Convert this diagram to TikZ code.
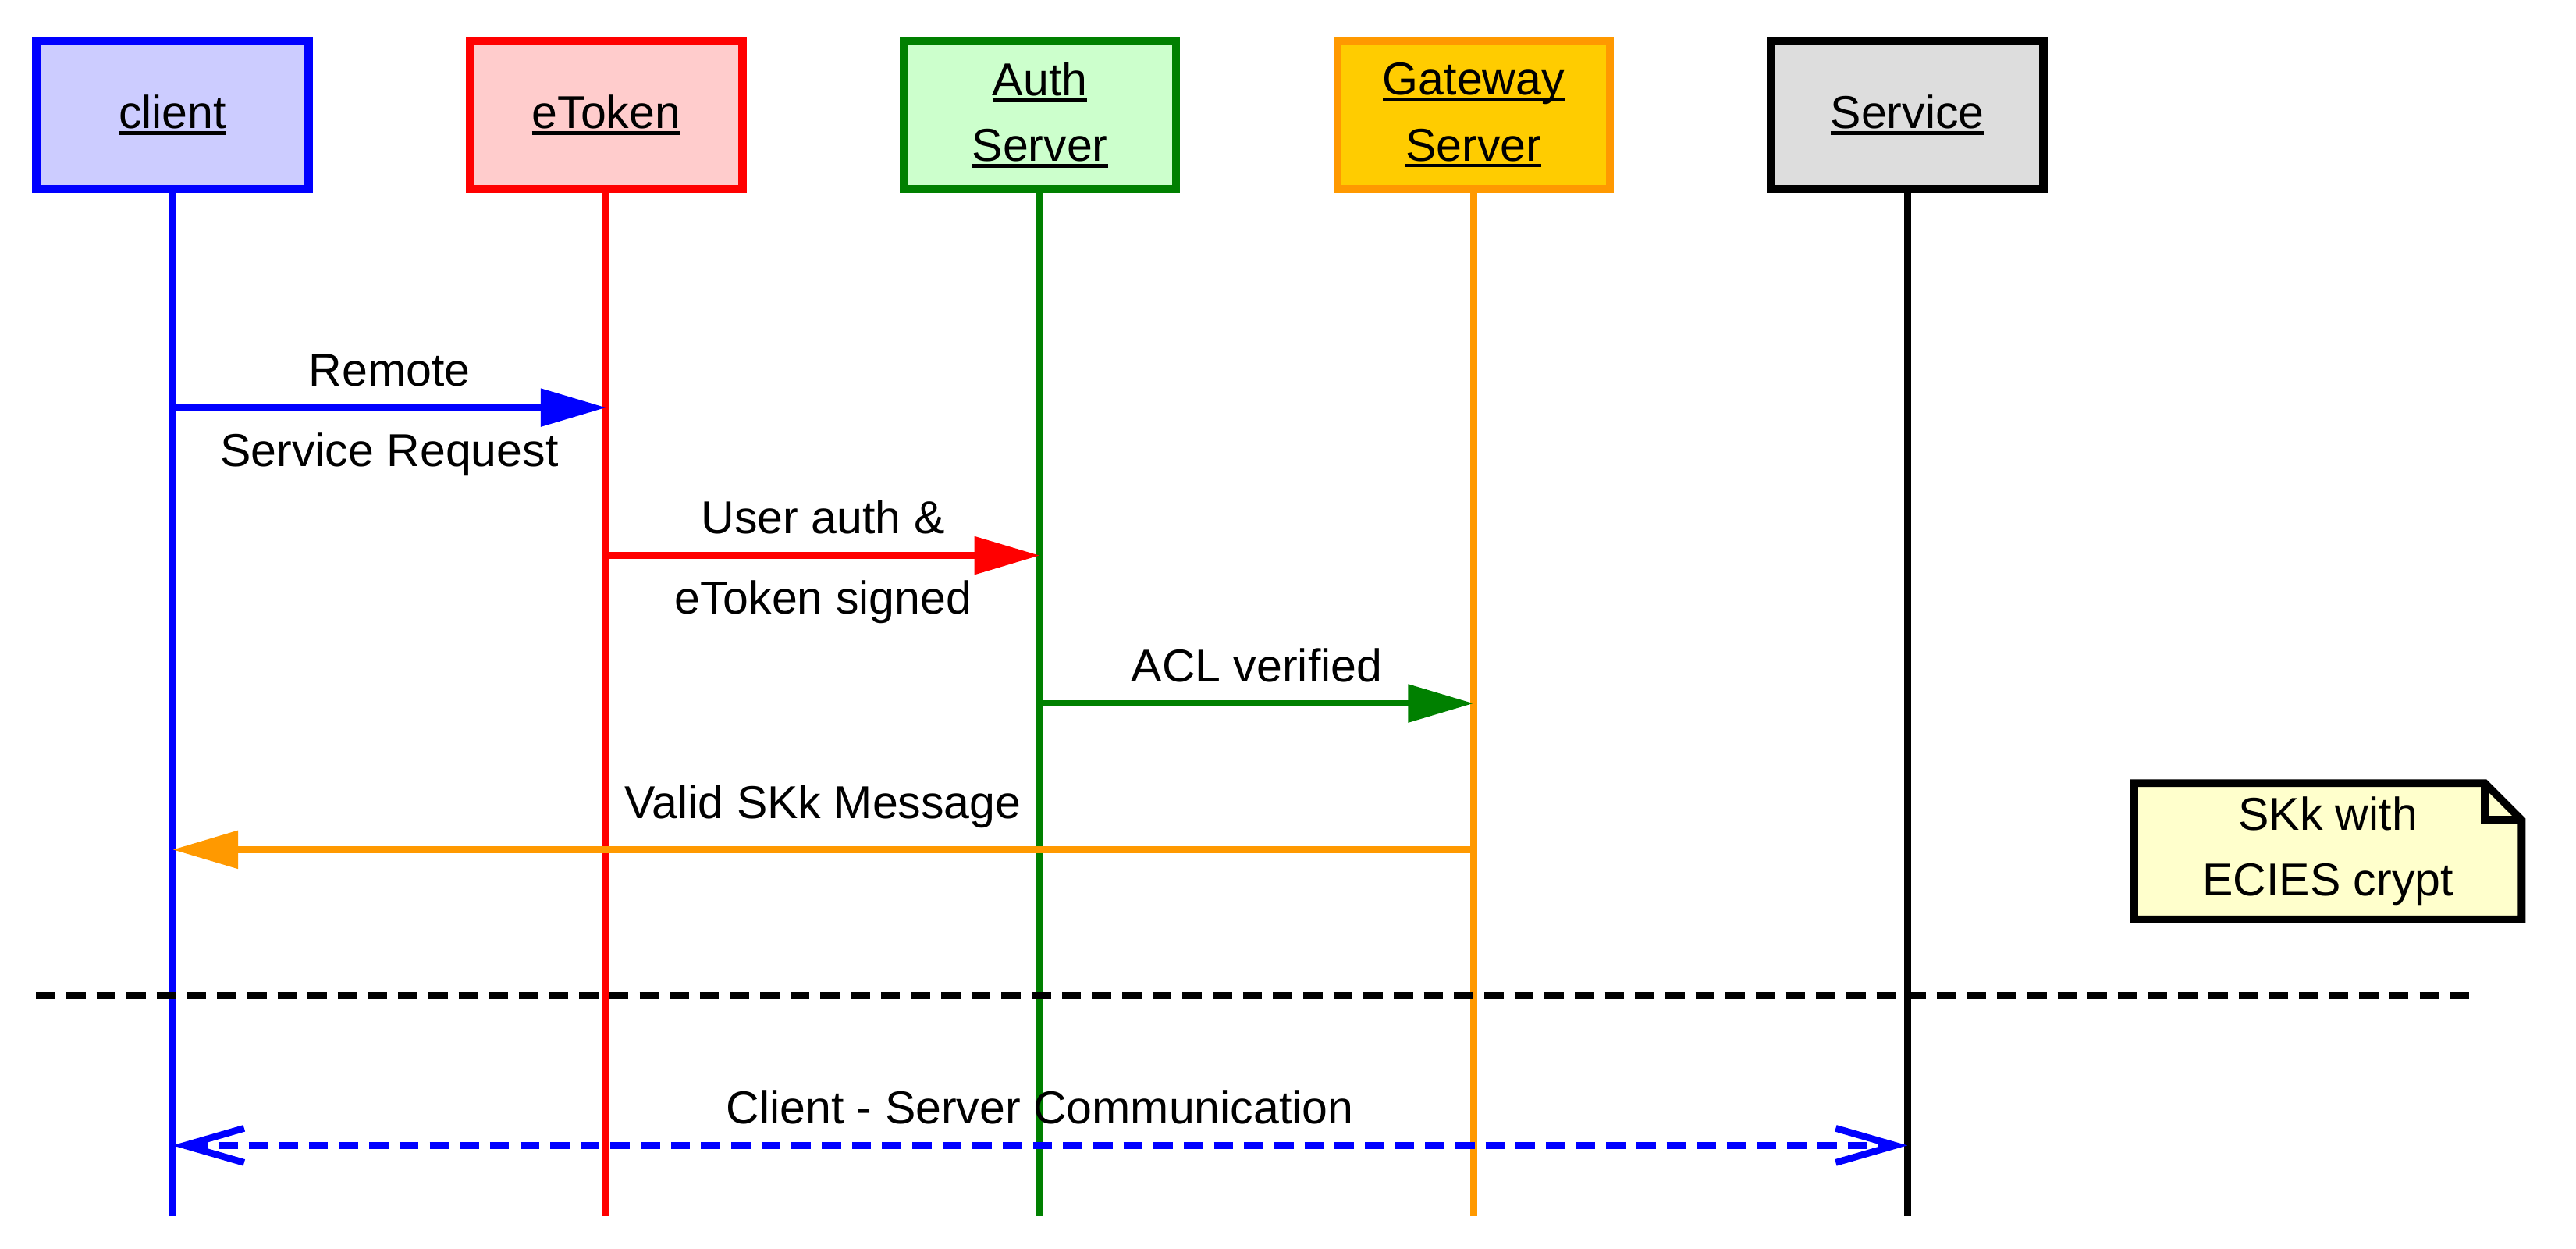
\documentclass[tikz,border=0pt]{standalone}
\usepackage{fontspec}
\setmainfont{Liberation Sans}
\usetikzlibrary{arrows.meta,positioning,backgrounds}
\definecolor{clientblue}{HTML}{0000FF}
\definecolor{clientfill}{HTML}{CCCCFF}
\definecolor{tokenred}{HTML}{FF0000}
\definecolor{tokenfill}{HTML}{FFCCCC}
\definecolor{authgreen}{HTML}{008000}
\definecolor{authfill}{HTML}{CCFFCC}
\definecolor{gworange}{HTML}{FF9900}
\definecolor{gwfill}{HTML}{FFCC00}
\definecolor{svcfill}{HTML}{DDDDDD}
\definecolor{notefill}{HTML}{FFFFCC}

% underlined actor name, rule at a fixed depth
\newcommand{\undl}[1]{\setbox0\hbox{#1}\rlap{\rule[-2.3pt]{\wd0}{1.3pt}}\box0}

\begin{document}
\begin{tikzpicture}[
  x=0.21052mm, y=-0.21052mm, line join=miter,
  every node/.style={font=\fontsize{16.8}{24}\selectfont, text=black, inner sep=2pt},
  actor/.style={draw, line width=3pt, minimum width=34.9mm, minimum height=18.9mm, align=center},
  life/.style={line width=2.5pt},
  msg/.style={line width=2.5pt, -{Triangle[length=8.4mm,width=4.7mm]}},
  comm/.style={line width=2.5pt, dash pattern=on 7pt off 4pt,
    {Straight Barb[length=7.6mm,width=4.4mm]}-{Straight Barb[length=7.6mm,width=4.4mm]}},
  sepline/.style={line width=2.6pt, dash pattern=on 7pt off 4pt},
  notebox/.style={line width=2.8pt, fill=notefill}
]
\useasboundingbox (0,0) rectangle (1568,760);

\def\fold{4.7mm}   % dog-ear of the note

% --- actors
\node[actor, fill=clientfill, draw=clientblue] (client)  at (105,70)  {\undl{client}};
\node[actor, fill=tokenfill,  draw=tokenred]   (etoken)  at (369,70)  {\undl{eToken}};
\node[actor, fill=authfill,   draw=authgreen]  (auth)    at (633,70)  {\undl{Auth}\\\undl{Server}};
\node[actor, fill=gwfill,     draw=gworange]   (gateway) at (897,70)  {\undl{Gateway}\\\undl{Server}};
\node[actor, fill=svcfill,    draw=black]      (service) at (1161,70) {\undl{Service}};

% --- rows of the messages
\coordinate (m1) at (0,248);
\coordinate (m2) at (0,338);
\coordinate (m3) at (0,428);
\coordinate (m4) at (0,517);
\coordinate (m5) at (0,697);
\coordinate (bottom) at (0,740);
\coordinate (sepL) at (22,606);
\coordinate (sepR) at (1507,606);

% --- lifelines
\foreach \a/\c in {client/clientblue, etoken/tokenred, auth/authgreen, gateway/gworange, service/black}
  \draw[life, \c] (\a.south) -- (\a |- bottom);

% --- messages
\draw[msg, clientblue] (client |- m1) --
  node[above=4.5pt] {Remote} node[below=6pt] {Service Request} (etoken |- m1);
\draw[msg, tokenred] (etoken |- m2) --
  node[above=4.5pt] {User auth \&} node[below=6pt] {eToken signed} (auth |- m2);
\draw[msg, authgreen] (auth |- m3) -- node[above=4.5pt] {ACL verified} (gateway |- m3);
\draw[msg, gworange] (gateway |- m4) -- node[above=4.5pt] {Valid SKk Message} (client |- m4);

% note
\node[minimum width=49.5mm, minimum height=17.3mm, align=center] (note) at (1417,518) {SKk with\\ECIES crypt};
\begin{scope}[on background layer]
  \draw[notebox] (note.north west) -- ([xshift=-\fold]note.north east) -- ([yshift=-\fold]note.north east)
    -- (note.south east) -- (note.south west) -- cycle;
  \draw[line width=2.8pt] ([xshift=-\fold]note.north east) -- ([xshift=-\fold,yshift=-\fold]note.north east)
    -- ([yshift=-\fold]note.north east);
\end{scope}

\draw[sepline] (sepL) -- (sepR);

\draw[comm, clientblue] (client |- m5) -- node[above=4.5pt] {Client - Server Communication} (service |- m5);

\end{tikzpicture}
\end{document}
